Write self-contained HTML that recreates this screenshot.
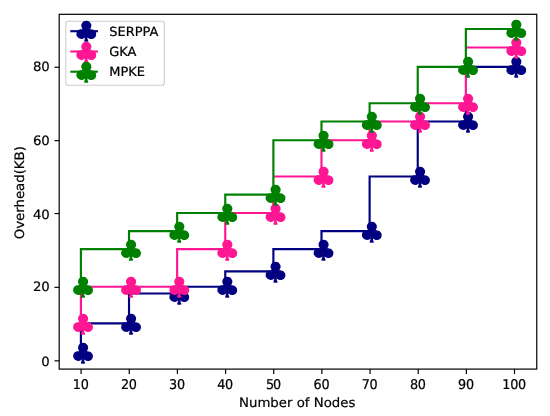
<!DOCTYPE html>
<html lang="en"><head><meta charset="utf-8"><title>Overhead vs Number of Nodes</title>
<style>html,body{margin:0;padding:0;background:#fff}body{width:550px;height:416px;overflow:hidden}svg{display:block}text{text-rendering:geometricPrecision;font-family:"DejaVu Sans","Liberation Sans",sans-serif;font-size:13.3px}.lb text,text.lb{stroke:#000;stroke-width:0.22px}.club{font-size:27.0px;text-anchor:middle;stroke-width:1.33;stroke-linejoin:round}.ln{fill:none;stroke-width:2.15;stroke-linejoin:miter;stroke-linecap:butt}.tk{stroke:#000;stroke-width:1.2}</style></head><body>
<svg width="550" height="416" viewBox="0 0 550 416">
<rect width="550" height="416" fill="#fff"/>
<defs><filter id="soft" x="0" y="0" width="550" height="416" filterUnits="userSpaceOnUse"><feGaussianBlur stdDeviation="0.35"/></filter></defs><g filter="url(#soft)"><rect width="550" height="416" fill="#fff"/>
<g fill="#000080" stroke="#000080">
<path class="ln" d="M80.90 352.60 V323.30 H129.02 V293.50 H177.14 V286.70 H225.26 V271.40 H273.38 V249.05 H321.50 V231.15 H369.62 V176.45 H417.74 V121.45 H465.86 V103.20 M465.86 66.85 H513.98"/>
<text class="club" transform="translate(83.00 362.73) scale(1.015 1)">♣</text>
<text class="club" transform="translate(131.13 333.88) scale(1.015 1)">♣</text>
<text class="club" transform="translate(179.27 304.08) scale(1.015 1)">♣</text>
<text class="club" transform="translate(227.40 297.28) scale(1.015 1)">♣</text>
<text class="club" transform="translate(275.53 281.98) scale(1.015 1)">♣</text>
<text class="club" transform="translate(323.66 259.63) scale(1.015 1)">♣</text>
<text class="club" transform="translate(371.80 241.73) scale(1.015 1)">♣</text>
<text class="club" transform="translate(419.93 187.03) scale(1.015 1)">♣</text>
<text class="club" transform="translate(468.06 132.03) scale(1.015 1)">♣</text>
<text class="club" transform="translate(516.20 77.43) scale(1.015 1)">♣</text>
</g>
<g fill="#ff1493" stroke="#ff1493">
<path class="ln" d="M80.90 323.30 V286.70 H129.02 H177.14 V249.05 H225.26 V213.00 H273.38 V194.65 M273.38 176.45 H321.50 V140.20 H369.62 V121.45 H417.74 V103.20 H465.86 V66.85 M465.86 47.45 H513.98"/>
<text class="club" transform="translate(83.00 333.88) scale(1.015 1)">♣</text>
<text class="club" transform="translate(131.13 297.28) scale(1.015 1)">♣</text>
<text class="club" transform="translate(179.27 297.28) scale(1.015 1)">♣</text>
<text class="club" transform="translate(227.40 259.63) scale(1.015 1)">♣</text>
<text class="club" transform="translate(275.53 223.58) scale(1.015 1)">♣</text>
<text class="club" transform="translate(323.66 187.03) scale(1.015 1)">♣</text>
<text class="club" transform="translate(371.80 150.78) scale(1.015 1)">♣</text>
<text class="club" transform="translate(419.93 132.03) scale(1.015 1)">♣</text>
<text class="club" transform="translate(468.06 113.78) scale(1.015 1)">♣</text>
<text class="club" transform="translate(516.20 58.03) scale(1.015 1)">♣</text>
</g>
<g fill="#008000" stroke="#008000">
<path class="ln" d="M80.90 286.70 V249.05 H129.02 V231.15 H177.14 V213.00 H225.26 V194.65 H273.38 V140.20 H321.50 V121.45 H369.62 V103.20 H417.74 V66.85 H465.86 V28.95 H513.98"/>
<text class="club" transform="translate(83.00 297.28) scale(1.015 1)">♣</text>
<text class="club" transform="translate(131.13 259.63) scale(1.015 1)">♣</text>
<text class="club" transform="translate(179.27 241.73) scale(1.015 1)">♣</text>
<text class="club" transform="translate(227.40 223.58) scale(1.015 1)">♣</text>
<text class="club" transform="translate(275.53 205.23) scale(1.015 1)">♣</text>
<text class="club" transform="translate(323.66 150.78) scale(1.015 1)">♣</text>
<text class="club" transform="translate(371.80 132.03) scale(1.015 1)">♣</text>
<text class="club" transform="translate(419.93 113.78) scale(1.015 1)">♣</text>
<text class="club" transform="translate(468.06 77.43) scale(1.015 1)">♣</text>
<text class="club" transform="translate(516.20 39.53) scale(1.015 1)">♣</text>
</g>
<rect x="59.20" y="14.30" width="477.55" height="354.80" fill="none" stroke="#000" stroke-width="1.2"/>
<line class="tk" x1="81.10" x2="81.10" y1="369.10" y2="373.90"/>
<text class="lb" transform="translate(80.65 388.60) scale(1 1.05)" text-anchor="middle" style="font-size:12.8px;letter-spacing:-0.3px">10</text>
<line class="tk" x1="129.26" x2="129.26" y1="369.10" y2="373.90"/>
<text class="lb" transform="translate(128.81 388.60) scale(1 1.05)" text-anchor="middle" style="font-size:12.8px;letter-spacing:-0.3px">20</text>
<line class="tk" x1="177.41" x2="177.41" y1="369.10" y2="373.90"/>
<text class="lb" transform="translate(176.96 388.60) scale(1 1.05)" text-anchor="middle" style="font-size:12.8px;letter-spacing:-0.3px">30</text>
<line class="tk" x1="225.57" x2="225.57" y1="369.10" y2="373.90"/>
<text class="lb" transform="translate(225.12 388.60) scale(1 1.05)" text-anchor="middle" style="font-size:12.8px;letter-spacing:-0.3px">40</text>
<line class="tk" x1="273.72" x2="273.72" y1="369.10" y2="373.90"/>
<text class="lb" transform="translate(273.12 388.60) scale(1 1.05)" text-anchor="middle" style="font-size:12.8px;letter-spacing:-1.1px">50</text>
<line class="tk" x1="321.88" x2="321.88" y1="369.10" y2="373.90"/>
<text class="lb" transform="translate(321.43 388.60) scale(1 1.05)" text-anchor="middle" style="font-size:12.8px;letter-spacing:-0.3px">60</text>
<line class="tk" x1="370.04" x2="370.04" y1="369.10" y2="373.90"/>
<text class="lb" transform="translate(369.59 388.60) scale(1 1.05)" text-anchor="middle" style="font-size:12.8px;letter-spacing:-0.3px">70</text>
<line class="tk" x1="418.19" x2="418.19" y1="369.10" y2="373.90"/>
<text class="lb" transform="translate(417.74 388.60) scale(1 1.05)" text-anchor="middle" style="font-size:12.8px;letter-spacing:-0.3px">80</text>
<line class="tk" x1="466.35" x2="466.35" y1="369.10" y2="373.90"/>
<text class="lb" transform="translate(465.90 388.60) scale(1 1.05)" text-anchor="middle" style="font-size:12.8px;letter-spacing:-0.3px">90</text>
<line class="tk" x1="514.50" x2="514.50" y1="369.10" y2="373.90"/>
<text class="lb" transform="translate(514.05 388.60) scale(1 1.05)" text-anchor="middle" style="font-size:12.8px;letter-spacing:-0.3px">100</text>
<line class="tk" x1="54.50" x2="59.20" y1="360.85" y2="360.85"/>
<text class="lb" transform="translate(49.80 365.65) scale(1 0.97)" text-anchor="end">0</text>
<line class="tk" x1="54.50" x2="59.20" y1="287.37" y2="287.37"/>
<text class="lb" transform="translate(49.80 291.35) scale(1 0.97)" text-anchor="end">20</text>
<line class="tk" x1="54.50" x2="59.20" y1="213.55" y2="213.55"/>
<text class="lb" transform="translate(49.80 218.95) scale(1 0.97)" text-anchor="end">40</text>
<line class="tk" x1="54.50" x2="59.20" y1="140.63" y2="140.63"/>
<text class="lb" transform="translate(49.80 144.75) scale(1 0.97)" text-anchor="end">60</text>
<line class="tk" x1="54.50" x2="59.20" y1="67.25" y2="67.25"/>
<text class="lb" transform="translate(49.80 71.25) scale(1 0.97)" text-anchor="end">80</text>
<text class="lb" transform="translate(297.20 407.20) scale(1 0.975)" text-anchor="middle">Number of Nodes</text>
<text class="lb" transform="translate(24.30 192.70) rotate(-90) scale(1 0.975)" text-anchor="middle">Overhead(KB)</text>
<rect x="65.80" y="21.20" width="98.60" height="64.10" rx="2.6" ry="2.6" fill="#fff" fill-opacity="0.8" stroke="#ccc" stroke-width="1.07"/>
<line x1="70.3" x2="97.9" y1="31.20" y2="31.20" stroke="#000080" stroke-width="2.15"/>
<text class="club" fill="#000080" stroke="#000080" transform="translate(86.30 41.33) scale(1.015 1)">♣</text>
<text class="lb" transform="translate(109.20 35.80) scale(1 0.975)" style="font-size:13px">SERPPA</text>
<line x1="70.3" x2="97.9" y1="51.50" y2="51.50" stroke="#ff1493" stroke-width="2.15"/>
<text class="club" fill="#ff1493" stroke="#ff1493" transform="translate(86.30 61.63) scale(1.015 1)">♣</text>
<text class="lb" transform="translate(109.20 56.10) scale(1 0.975)" style="font-size:13px">GKA</text>
<line x1="70.3" x2="97.9" y1="71.70" y2="71.70" stroke="#008000" stroke-width="2.15"/>
<text class="club" fill="#008000" stroke="#008000" transform="translate(86.30 81.83) scale(1.015 1)">♣</text>
<text class="lb" transform="translate(109.20 76.30) scale(1 0.975)" style="font-size:13px">MPKE</text>
</g>
</svg></body></html>
